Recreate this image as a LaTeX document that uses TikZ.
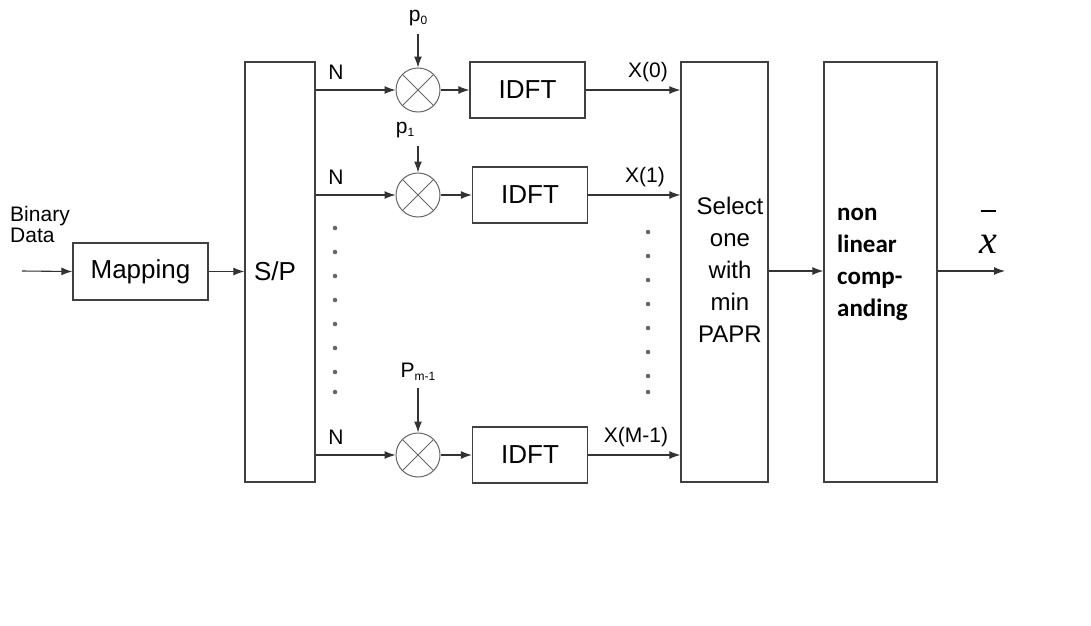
\documentclass[tikz,border=0pt]{standalone}
\usepackage{fontspec}
\setmainfont{Liberation Sans}
\newfontfamily\cali{Carlito}
\newfontfamily\serif{Liberation Serif}
\usetikzlibrary{arrows.meta}
\newcommand{\sbs}[1]{\raisebox{-3pt}{\fontsize{12}{12}\selectfont #1}}
\begin{document}
\begin{tikzpicture}[x=1pt,y=-1pt,
  blk/.style={draw=black!75,line width=1.3pt,rectangle,inner sep=0pt},
  mult/.style={draw=black!60,line width=1pt,circle,minimum size=44pt,inner sep=0pt,
    path picture={\draw[black!60,line width=0.8pt] (path picture bounding box.north west)--(path picture bounding box.south east) (path picture bounding box.north east)--(path picture bounding box.south west);}},
  arr/.style={draw=black!80,line width=1.1pt,-{Latex[length=11pt,width=8pt]}},
  lab/.style={font=\fontsize{21}{23}\selectfont,inner sep=0pt},
  big/.style={font=\fontsize{26}{28}\selectfont,inner sep=0pt},
  dot/.style={fill=black!60,circle,inner sep=1.6pt}]
\useasboundingbox (0,0) rectangle (1091,625);
\node[lab,align=left] (bin) at (40,224) {Binary\\[-2pt]Data};
\coordinate (in) at (22,271);
\node[blk,minimum width=135pt,minimum height=57pt] (map) at (140.5,271.5) {};
\node[big] at (140.5,271.5) {Mapping};
\node[blk,minimum width=70pt,minimum height=420pt] (sp) at (280,272) {};
\node[big] at (275,271) {S/P};
\node[blk,minimum width=87pt,minimum height=420pt] (sel) at (724.5,272) {};
\node[font=\fontsize{24}{26}\selectfont,inner sep=0pt,align=center] at (730,270) {Select\\[6pt]one\\[6pt]with\\[6pt]min\\[6pt]PAPR};
\node[blk,minimum width=113pt,minimum height=420pt] (nl) at (880.5,272) {};
\node[font=\cali\bfseries\fontsize{25}{27}\selectfont,align=left,anchor=west,inner sep=0pt] at (837,264) {non\\[5pt]linear\\[5pt]comp-\\[5pt]anding};
\coordinate (out) at (1005,271);
\node[font=\serif\itshape\fontsize{40}{40}\selectfont,inner sep=0pt,align=center] (xb) at (988,232) {\rule{15pt}{1.6pt}\\[2pt]x};
\draw[arr] (in) -- (map.west);
\draw[arr] (map.east) -- (sp.west |- map.east);
\draw[arr] (sel.east |- 0,271) -- (nl.west |- 0,271);
\draw[arr] (nl.east |- 0,271) -- (out);
\foreach \i/\y/\bx/\p/\px/\py/\X/\Xx in {a/90/527.5/{p\sbs{0}}/418/18/X(0)/648, b/195/530/{p\sbs{1}}/405/130/X(1)/645, c/455/530/{P\sbs{m-1}}/418/372/X(M-1)/636}{
  \node[mult] (m\i) at (418,\y) {};
  \node[blk,minimum width=115pt,minimum height=56pt] (d\i) at (\bx,\y) {};
  \node[big] at (\bx,\y) {IDFT};
  \node[lab] at (336,\y-18) {N};
  \node[lab] (p\i) at (\px,\py) {\p};
  \node[lab] at (\Xx,\y-18) {\X};
  \draw[arr] (sp.east |- m\i) -- (m\i.west);
  \draw[arr] (m\i.east) -- (d\i.west);
  \draw[arr] (d\i.east) -- (sel.west |- d\i.east);
  \draw[arr] (418,\py+16) -- (m\i.north);
}
\foreach \y in {228,252,276,300,324,348,372,392} \node[dot] at (335,\y) {};
\foreach \y in {232,256,280,304,328,352,376,392} \node[dot] at (648,\y) {};
\end{tikzpicture}
\end{document}
